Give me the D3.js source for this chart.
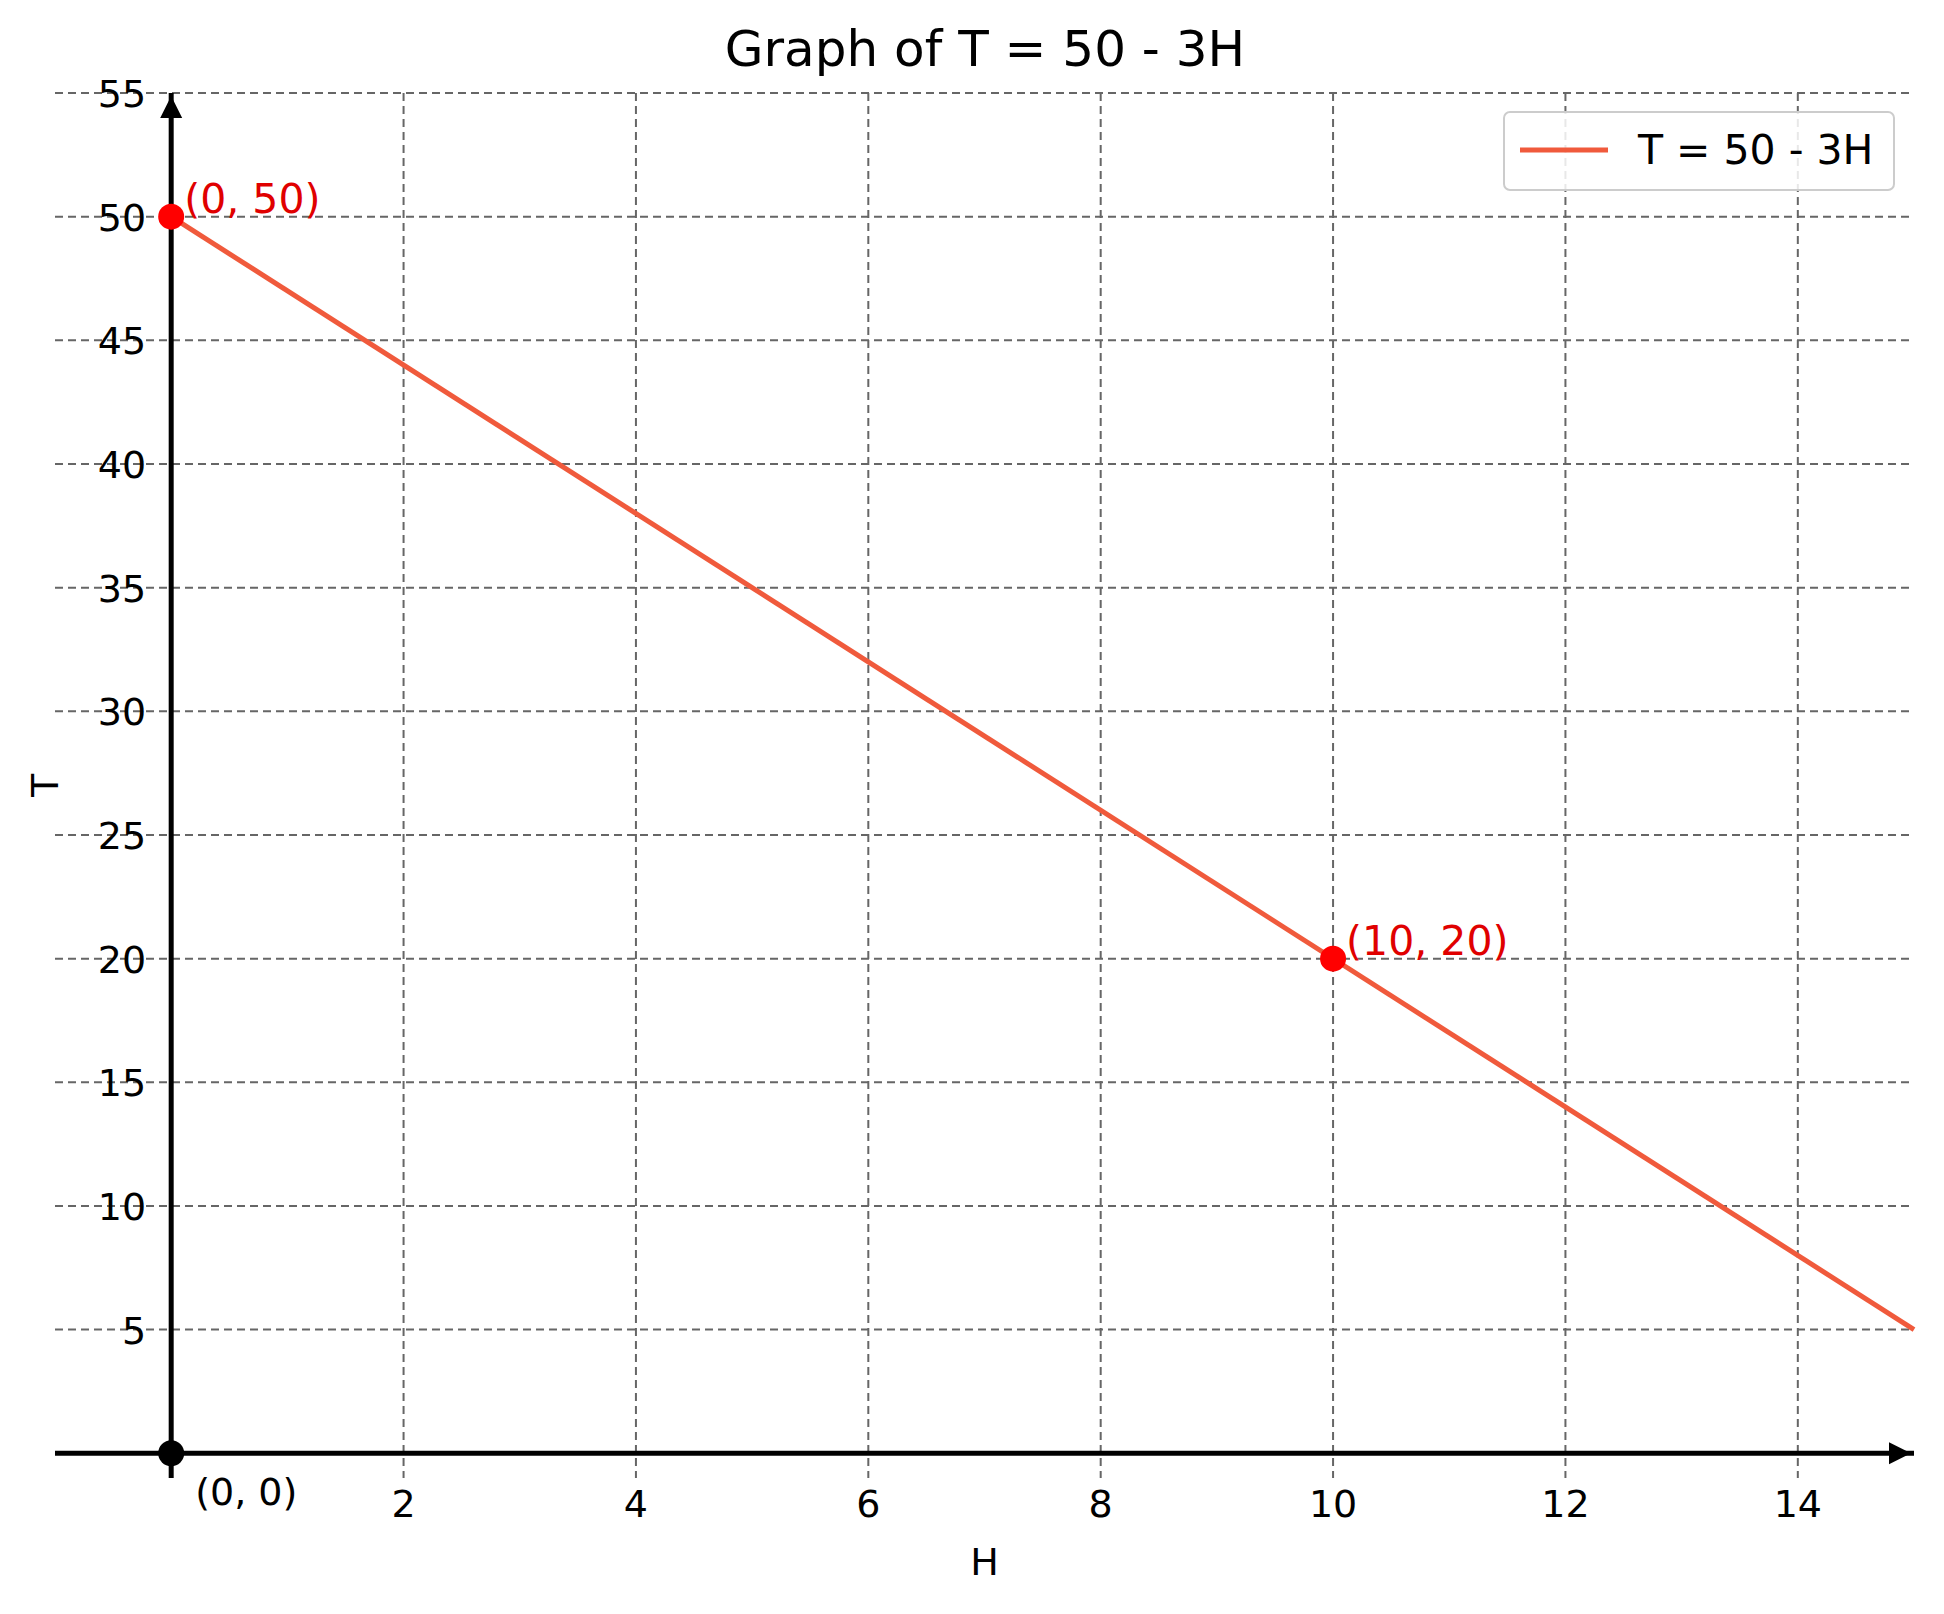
<!DOCTYPE html>
<html><head><meta charset="utf-8">
<script src="https://cdn.jsdelivr.net/npm/d3@7"></script>
<style>body{margin:0;background:#fff}svg{font-family:"DejaVu Sans",sans-serif}</style>
</head><body><svg id="c" width="1944" height="1614"></svg>
<script>
const lineH = [0, 15];
const lineT = lineH.map(h => 50 - 3*h);
const pointsH = [0, 10];
const pointsT = [50, 20];
const pointLabels = ["(0, 50)", "(10, 20)"];
const xTicks = [2,4,6,8,10,12,14];
const yTicks = [5,10,15,20,25,30,35,40,45,50,55];

const svg = d3.select("#c");
const x = d3.scaleLinear().domain([-1, 15]).range([55, 1914]);
const y = d3.scaleLinear().domain([-1, 55]).range([1478, 93]);
const lineColor = "#f05a3c";
const fs = 38;

svg.append("g").selectAll("line").data(xTicks).join("line")
  .attr("x1", d=>x(d)).attr("x2", d=>x(d)).attr("y1", y(55)).attr("y2", y(-1))
  .attr("stroke","#666").attr("stroke-width",2).attr("stroke-dasharray","8,5");
svg.append("g").selectAll("line").data(yTicks).join("line")
  .attr("x1", x(-1)).attr("x2", x(15)).attr("y1", d=>y(d)).attr("y2", d=>y(d))
  .attr("stroke","#666").attr("stroke-width",2).attr("stroke-dasharray","8,5");

svg.append("line").attr("x1",x(-1)).attr("x2",x(15)).attr("y1",y(0)).attr("y2",y(0)).attr("stroke","#000").attr("stroke-width",5);
svg.append("line").attr("x1",x(0)).attr("x2",x(0)).attr("y1",y(-1)).attr("y2",y(55)).attr("stroke","#000").attr("stroke-width",5);
svg.append("path").attr("d",`M${x(15)-3},${y(0)} l-22,-11 l0,22 z`).attr("fill","#000");
svg.append("path").attr("d",`M${x(0)},${y(55)+3} l-11,22 l22,0 z`).attr("fill","#000");

svg.append("g").selectAll("text").data(xTicks).join("text")
  .attr("x", d=>x(d)).attr("y", y(0)+64).attr("text-anchor","middle").attr("font-size",fs).text(d=>d);
svg.append("g").selectAll("text").data(yTicks).join("text")
  .attr("x", x(0)-25).attr("y", d=>y(d)+14).attr("text-anchor","end").attr("font-size",fs).text(d=>d);
svg.append("text").attr("x", x(0)+24).attr("y", y(0)+52).attr("font-size",fs).text("(0, 0)");

svg.append("text").attr("x", x(7)).attr("y", 1575).attr("text-anchor","middle").attr("font-size",fs).text("H");
svg.append("text").attr("transform",`translate(58,${y(27)}) rotate(-90)`).attr("text-anchor","middle").attr("font-size",fs).text("T");
svg.append("text").attr("x", 985).attr("y", 66).attr("text-anchor","middle").attr("font-size",50).text("Graph of T = 50 - 3H");

svg.append("path").datum(lineH.map((h,i)=>[h,lineT[i]]))
  .attr("d", d3.line().x(d=>x(d[0])).y(d=>y(d[1])))
  .attr("stroke",lineColor).attr("stroke-width",5).attr("fill","none");

svg.append("circle").attr("cx",x(0)).attr("cy",y(0)).attr("r",13).attr("fill","#000");
svg.append("g").selectAll("circle").data(pointsH).join("circle")
  .attr("cx",d=>x(d)).attr("cy",(d,i)=>y(pointsT[i])).attr("r",13).attr("fill","#ff0000");
svg.append("g").selectAll("text").data(pointsH).join("text")
  .attr("x",d=>x(d)+13).attr("y",(d,i)=>y(pointsT[i])-4).attr("font-size",41).attr("fill","#e00000").text((d,i)=>pointLabels[i]);

const lg = svg.append("g");
lg.append("rect").attr("x",1504).attr("y",112).attr("width",390).attr("height",78).attr("rx",6)
  .attr("fill","#fff").attr("fill-opacity",0.85).attr("stroke","#ccc").attr("stroke-width",2);
lg.append("line").attr("x1",1520).attr("x2",1608).attr("y1",150).attr("y2",150).attr("stroke",lineColor).attr("stroke-width",5);
lg.append("text").attr("x",1638).attr("y",164).attr("font-size",41).text("T = 50 - 3H");
</script></body></html>
